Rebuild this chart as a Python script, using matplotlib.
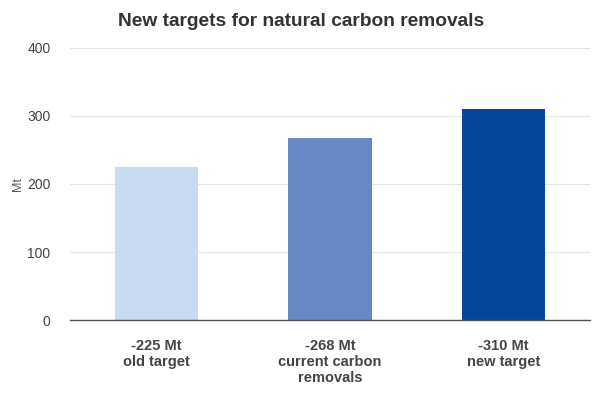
import matplotlib
matplotlib.use("Agg")
import matplotlib.pyplot as plt

labels = ["-225 Mt\nold target", "-268 Mt\ncurrent carbon\nremovals", "-310 Mt\nnew target"]
values = [225, 268, 310]
colors = ["#c9daf1", "#6688c4", "#03469a"]
yticks = [0, 100, 200, 300, 400]

plt.rcParams["font.family"] = ["Liberation Sans", "DejaVu Sans"]

fig = plt.figure(figsize=(6, 4), dpi=100)
ax = fig.add_axes([0.1167, 0.2, 0.8667, 0.68])

x = range(len(values))
ax.bar(x, values, width=0.48, color=colors, zorder=2)

ax.set_xlim(-0.5, 2.5)
ax.set_ylim(0, 400)
ax.set_yticks(yticks)
ax.set_xticks(list(x))
ax.set_xticklabels(labels, fontweight="bold", color="#444444", fontsize=10.5,
                   linespacing=1.15)
ax.tick_params(axis="y", length=0, labelsize=10, labelcolor="#444444", pad=14)
ax.tick_params(axis="x", length=0, pad=14)
ax.grid(axis="y", color="#e6e6e6", linewidth=0.8, zorder=0)
for s in ["top", "right", "left"]:
    ax.spines[s].set_visible(False)
ax.spines["bottom"].set_color("#555555")
ax.spines["bottom"].set_linewidth(1.0)
ax.set_ylabel("Mt", fontsize=9, color="#555555")
ax.yaxis.set_label_coords(-0.088, 0.5)

fig.text(0.502, 0.945, "New targets for natural carbon removals", ha="center", va="center",
         fontsize=13.8, fontweight="bold", color="#333333")

fig.savefig("out.png", dpi=100)
